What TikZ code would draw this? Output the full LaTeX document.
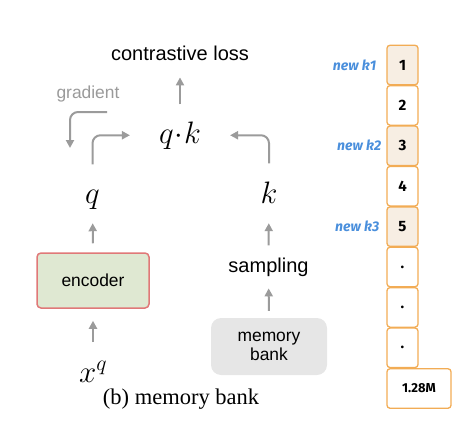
\RequirePackage{fix-cm}
\documentclass[tikz,border=0pt]{standalone}
\usepackage{fontspec}
\setmainfont{Liberation Sans}
\newfontfamily\seriff{Liberation Serif}
\newfontfamily\handf{Fira Sans}
\usetikzlibrary{arrows.meta}
\definecolor{arrgray}{HTML}{9B9B9B}
\definecolor{gradgray}{HTML}{9A9A9A}
\definecolor{encfill}{HTML}{DFE8D2}
\definecolor{encdraw}{HTML}{E07878}
\definecolor{mbfill}{HTML}{E6E6E6}
\definecolor{cellfill}{HTML}{F7EEE3}
\definecolor{celldraw}{HTML}{F2AC55}
\definecolor{labblue}{HTML}{4A8FDC}
\begin{document}
\begin{tikzpicture}[x=1pt,y=-1pt,
  arr/.style={draw=arrgray, line width=2pt, -{Triangle[length=8pt,width=8pt]}},
  sansL/.style={inner sep=0pt, font=\fontsize{20}{22}\selectfont},
  sansM/.style={inner sep=0pt, font=\fontsize{17.4}{20}\selectfont},
  mathT/.style={inner sep=0pt, font=\fontsize{31}{32}\selectfont},
  encbox/.style={draw=encdraw, fill=encfill, line width=1.5pt, rounded corners=4pt,
    minimum width=112pt, minimum height=55pt, inner sep=0pt, font=\fontsize{17.4}{20}\selectfont},
  mbbox/.style={fill=mbfill, rounded corners=10pt, minimum width=116pt, minimum height=57pt,
    inner sep=0pt, align=center, font=\fontsize{17.4}{20}\selectfont},
  cell/.style={draw=celldraw, line width=1.3pt, rounded corners=3pt, minimum width=31pt,
    minimum height=39.5pt, inner sep=0pt, font=\handf\bfseries\fontsize{15}{17}\selectfont},
  newcell/.style={cell, fill=cellfill},
  lab/.style={text=labblue, inner sep=0pt, anchor=east, font=\handf\bfseries\itshape\fontsize{14}{16}\selectfont}
]
\useasboundingbox (0,0) rectangle (474,442);

% left part
\node[sansL, anchor=base] (loss) at (180,60) {contrastive loss};
\node[mathT, anchor=base] (qk) at (180,143) {$q\mkern-3.5mu\cdot\mkern-3.5mu k$};
\node[mathT, anchor=base] (q) at (92.5,203) {$q$};
\node[mathT, anchor=base] (k) at (269,203) {$k$};
\node[sansM, anchor=base, text=gradgray] (gradl) at (88,98) {gradient};
\node[encbox] (enc) at (93,280.5) {encoder};
\node[mathT, anchor=base] (xq) at (93,382) {$x^q$};
\node[sansL, anchor=base] (samp) at (268.5,272) {sampling};
\node[mbbox] (mb) at (269,346.5) {memory\\[-1pt]bank};
\node[inner sep=0pt, anchor=base, font=\seriff\fontsize{22.5}{24}\selectfont] (cap) at (181,404) {(b) memory bank};

\coordinate (g1) at (107,112);
\coordinate (g2) at (70,148);

\draw[arr, shorten <=17pt, shorten >=17pt] (qk) -- (loss);
\draw[arr, rounded corners=8pt] ([yshift=25pt]q.north) |- ([xshift=-29pt]qk.west);
\draw[arr, rounded corners=8pt] ([yshift=18pt]k.north) |- ([xshift=29pt]qk.east);
\draw[arr, rounded corners=8pt] (g1) -| (g2);
\draw[arr, shorten <=9pt, shorten >=14pt] (enc.north) -- (q.south);
\draw[arr, shorten <=19pt, shorten >=12pt] (xq.north) -- (enc.south);
\draw[arr, shorten <=12pt, shorten >=20pt] (samp.north) -- (k.south);
\draw[arr, shorten <=7pt, shorten >=12pt] (mb.north) -- (samp.south);

% memory bank column
\node[newcell] (c1) at (402.5,65) {1};
\node[cell] (c2) at (402.5,105.4) {2};
\node[newcell] (c3) at (402.5,145.8) {3};
\node[cell] (c4) at (402.5,186.2) {4};
\node[newcell] (c5) at (402.5,226.6) {5};
\node[cell] (c6) at (402.5,267) {.};
\node[cell] (c7) at (402.5,307.4) {.};
\node[cell] (c8) at (402.5,347.8) {.};
\node[cell, minimum width=64pt, font=\handf\bfseries\fontsize{13}{15}\selectfont] (c9) at (419,388.5) {1.28M};

\node[lab] (l1) at ([xshift=-10pt]c1.west) {new k1};
\node[lab] (l2) at ([xshift=-5pt]c3.west) {new k2};
\node[lab] (l3) at ([xshift=-7pt]c5.west) {new k3};
\end{tikzpicture}
\end{document}
